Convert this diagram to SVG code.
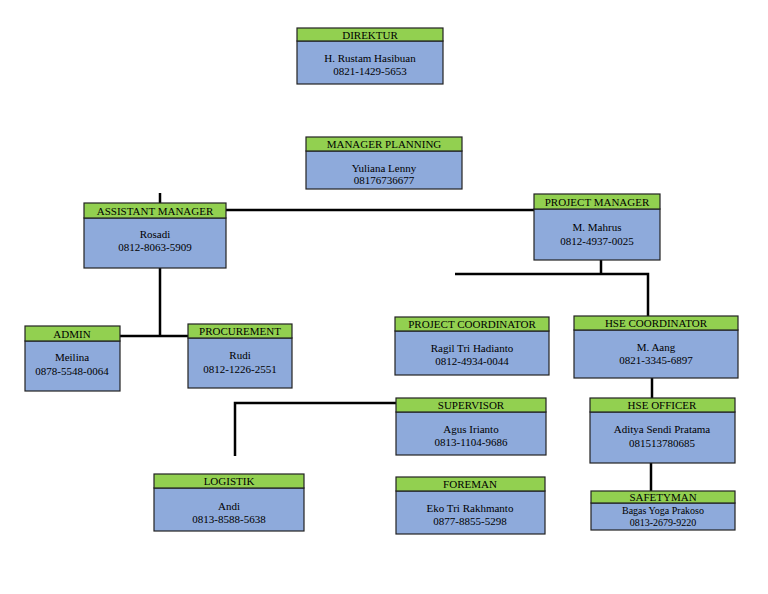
<svg xmlns="http://www.w3.org/2000/svg" width="768" height="594" viewBox="0 0 768 594">
<style>
.h{fill:#92d050;stroke:#222;stroke-width:1.2}
.b{fill:#8eaadb;stroke:#222;stroke-width:1.2}
text{font-family:"Liberation Serif",serif;font-size:11px;fill:#000;text-anchor:middle}
.c{stroke:#000;stroke-width:2.5;fill:none}
</style>
<rect width="768" height="594" fill="#fff"/>
<g id="connectors">
<path class="c" d="M160 193V203"/>
<path class="c" d="M226 210H534"/>
<path class="c" d="M160 268V336M120 336H188"/>
<path class="c" d="M601 260V274M455 274H648V316"/>
<path class="c" d="M652 378V398"/>
<path class="c" d="M651 463V491"/>
<path class="c" d="M396 403H235V456"/>
</g>
<g id="direktur"><rect class="b" x="297" y="41" width="146" height="43"/><rect class="h" x="297" y="28" width="146" height="13"/><text x="370" y="38.5">DIREKTUR</text><text x="370" y="62">H. Rustam Hasibuan</text><text x="370" y="75">0821-1429-5653</text></g>
<g id="manager-planning"><rect class="b" x="306" y="151" width="156" height="38"/><rect class="h" x="306" y="137" width="156" height="14"/><text x="384" y="148">MANAGER PLANNING</text><text x="384" y="172">Yuliana Lenny</text><text x="384" y="184">08176736677</text></g>
<g id="assistant-manager"><rect class="b" x="84" y="218" width="142" height="50"/><rect class="h" x="84" y="203" width="142" height="15"/><text x="155" y="215">ASSISTANT MANAGER</text><text x="155" y="238">Rosadi</text><text x="155" y="251">0812-8063-5909</text></g>
<g id="project-manager"><rect class="b" x="534" y="209" width="126" height="51"/><rect class="h" x="534" y="194" width="126" height="15"/><text x="597" y="206">PROJECT MANAGER</text><text x="597" y="231">M. Mahrus</text><text x="597" y="245">0812-4937-0025</text></g>
<g id="admin"><rect class="b" x="25" y="341" width="95" height="50"/><rect class="h" x="25" y="326" width="95" height="15"/><text x="72" y="338">ADMIN</text><text x="72" y="361">Meilina</text><text x="72" y="375">0878-5548-0064</text></g>
<g id="procurement"><rect class="b" x="188" y="338" width="104" height="50"/><rect class="h" x="188" y="324" width="104" height="14"/><text x="240" y="335">PROCUREMENT</text><text x="240" y="359">Rudi</text><text x="240" y="373">0812-1226-2551</text></g>
<g id="project-coordinator"><rect class="b" x="395" y="331" width="154" height="44"/><rect class="h" x="395" y="317" width="154" height="14"/><text x="472" y="328">PROJECT COORDINATOR</text><text x="472" y="352">Ragil Tri Hadianto</text><text x="472" y="365">0812-4934-0044</text></g>
<g id="hse-coordinator"><rect class="b" x="574" y="330" width="164" height="48"/><rect class="h" x="574" y="316" width="164" height="14"/><text x="656" y="327">HSE COORDINATOR</text><text x="656" y="351">M. Aang</text><text x="656" y="364">0821-3345-6897</text></g>
<g id="supervisor"><rect class="b" x="396" y="412" width="150" height="43"/><rect class="h" x="396" y="398" width="150" height="14"/><text x="471" y="409">SUPERVISOR</text><text x="471" y="433">Agus Irianto</text><text x="471" y="446">0813-1104-9686</text></g>
<g id="hse-officer"><rect class="b" x="590" y="412" width="145" height="51"/><rect class="h" x="590" y="398" width="145" height="14"/><text x="662" y="409">HSE OFFICER</text><text x="662" y="433">Aditya Sendi Pratama</text><text x="662" y="447">081513780685</text></g>
<g id="logistik"><rect class="b" x="154" y="488" width="150" height="43"/><rect class="h" x="154" y="474" width="150" height="14"/><text x="229" y="485">LOGISTIK</text><text x="229" y="510">Andi</text><text x="229" y="523">0813-8588-5638</text></g>
<g id="foreman"><rect class="b" x="396" y="491" width="149" height="43"/><rect class="h" x="396" y="477" width="149" height="14"/><text x="470" y="488">FOREMAN</text><text x="470" y="512">Eko Tri Rakhmanto</text><text x="470" y="525">0877-8855-5298</text></g>
<g id="safetyman"><rect class="b" x="591" y="503" width="144" height="27"/><rect class="h" x="591" y="491" width="144" height="12"/><text x="663" y="501">SAFETYMAN</text><text x="663" y="514" style="font-size:10px">Bagas Yoga Prakoso</text><text x="663" y="526" style="font-size:10px">0813-2679-9220</text></g>
</svg>
